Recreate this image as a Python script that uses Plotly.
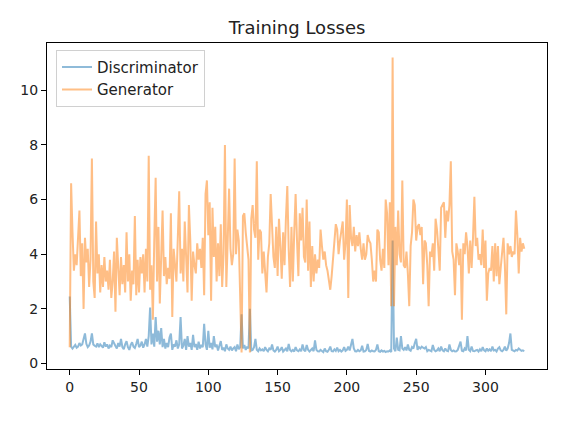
import plotly.graph_objects as go

# Losses per training step
disc_losses = [
    2.45, 0.62, 0.55, 0.6, 0.68, 0.58, 0.62, 0.75, 0.66, 0.7,
    0.95, 1.1, 0.72, 0.6, 0.66, 0.8, 1.1, 0.7, 0.65, 0.62,
    0.74, 0.6, 0.7, 0.64, 0.58, 0.78, 0.62, 0.7, 0.55, 0.66,
    0.6, 0.85, 0.72, 0.64, 0.55, 0.75, 0.62, 0.9, 0.6, 0.52,
    0.7, 0.82, 0.6, 0.5, 0.68, 0.78, 0.62, 0.57, 0.72, 0.9,
    0.6, 0.66, 0.8, 0.58, 0.7, 0.9, 0.62, 1.0, 2.05, 0.7,
    1.1, 0.62, 1.7, 0.8, 1.2, 0.7, 1.3, 0.6, 0.9, 0.55,
    0.75, 0.6, 0.95, 1.1, 0.5, 0.7, 0.62, 0.85, 0.55, 0.7,
    1.7, 0.55, 0.65, 0.9, 0.5, 1.0, 0.62, 0.75, 0.5, 1.05,
    0.6, 0.72, 0.5, 0.8, 0.55, 0.68, 0.6, 1.45, 0.7, 0.5,
    1.2, 0.58, 0.75, 0.52, 1.0, 0.6, 0.7, 0.48, 0.65, 0.82,
    0.5, 0.58, 0.45, 0.7, 0.55, 0.5, 0.62, 0.48, 0.55, 0.6,
    0.45, 0.7, 0.52, 0.6, 1.8, 0.55, 0.68, 0.5, 0.62, 0.55,
    2.0, 0.48, 0.5, 0.6, 0.9, 0.5, 0.45, 0.55, 0.48, 0.52,
    0.45, 0.6, 0.5, 0.45, 0.55, 0.5, 0.7, 0.48, 0.44, 0.5,
    0.62, 0.45, 0.5, 0.6, 0.44, 0.48, 0.55, 0.45, 0.72, 0.5,
    0.45, 0.5, 0.44, 0.6, 0.48, 0.45, 0.52, 0.45, 0.7, 0.5,
    0.45, 0.68, 0.5, 0.44, 0.48, 0.55, 0.45, 0.85, 0.5, 0.45,
    0.44, 0.5, 0.46, 0.42, 0.55, 0.45, 0.43, 0.5, 0.62, 0.45,
    0.44, 0.52, 0.46, 0.58, 0.45, 0.5, 0.44, 0.48, 0.6, 0.46,
    0.5, 0.62, 0.48, 0.75, 0.9, 0.55, 0.45, 0.44, 0.5, 0.45,
    0.48, 0.65, 0.44, 0.45, 0.5, 0.72, 0.46, 0.44, 0.48, 0.45,
    0.44, 0.5, 0.7, 0.45, 0.43, 0.48, 0.44, 0.46, 0.42, 0.45,
    0.44, 0.48, 0.42, 4.5, 0.55, 0.45, 0.95, 0.5, 0.48, 1.0,
    0.55, 0.5, 0.6, 0.48, 0.7, 0.5, 0.47, 0.6, 0.55, 0.75,
    0.9, 0.5, 0.6, 0.55, 0.62, 0.58, 0.55, 0.6, 0.45, 0.5,
    0.47, 0.45, 0.68, 0.5, 0.45, 0.48, 0.55, 0.45, 0.62, 0.48,
    0.45, 0.55, 0.47, 0.45, 0.7, 0.5, 0.45, 0.48, 0.44, 0.45,
    0.5, 0.62, 0.8, 0.47, 0.45, 0.55, 0.48, 1.0, 0.5, 0.45,
    0.62, 0.46, 0.45, 0.48, 0.5, 0.44, 0.52, 0.45, 0.6, 0.48,
    0.45, 0.55, 0.47, 0.52, 0.45, 0.62, 0.48, 0.5, 0.44, 0.55,
    0.6, 0.48, 0.45, 0.5, 0.62, 0.47, 0.55, 0.75, 1.1, 0.5,
    0.47, 0.45, 0.5, 0.48, 0.55, 0.5, 0.46, 0.48, 0.45,
]

gen_losses = [
    0.6, 6.6, 4.8, 3.4, 4.0, 3.6, 4.6, 5.6, 3.2, 4.4,
    2.0, 4.6, 3.7, 4.2, 2.8, 3.8, 7.5, 3.0, 2.4, 5.2,
    3.3, 4.0, 2.6, 3.6, 2.8, 3.9, 3.0, 3.4, 2.7, 3.8,
    2.4, 3.0, 4.1, 1.9, 4.6, 3.2, 2.5, 3.9, 2.9, 3.6,
    2.6, 4.8, 3.0, 4.0, 2.3, 3.4, 2.9, 5.4, 2.5, 3.8,
    2.6, 3.9, 3.3, 4.0, 2.6, 4.2, 3.0, 7.6, 2.7, 3.6,
    1.6, 4.5, 6.8, 3.0, 5.0, 2.2, 4.3, 5.6, 3.2, 3.9,
    2.9, 3.5, 3.1, 5.5, 1.7, 4.2, 3.6, 3.0, 4.6, 6.3,
    3.3, 4.2, 3.0, 5.2, 3.9, 2.6, 5.8, 4.5, 2.3, 4.1,
    3.6, 3.3, 4.4, 3.8, 4.2, 3.5, 4.6, 2.5, 6.2, 6.7,
    4.7, 5.9, 2.3, 5.7, 3.9, 5.0, 3.0, 4.4, 3.2, 5.1,
    2.8, 4.0, 8.0, 2.8, 4.5, 6.4, 4.2, 3.6, 4.0, 7.5,
    4.0, 4.9, 4.5, 2.0, 0.4, 5.4, 5.5, 4.8, 4.3, 3.8,
    0.4, 5.3, 5.8, 4.9, 4.6, 7.4, 3.8, 4.9, 4.8, 3.3,
    4.1, 3.4, 2.6, 3.9, 4.4, 6.2, 4.7, 3.9, 3.5, 5.0,
    3.2, 5.3, 4.3, 3.1, 4.8, 3.6, 5.3, 6.5, 4.2, 2.8,
    5.0, 3.0, 4.8, 6.2, 4.5, 3.2, 5.5, 4.5, 5.7, 3.9,
    3.7, 6.0, 3.4, 5.2, 2.8, 4.3, 3.0, 4.0, 3.3, 3.8,
    3.5, 4.9, 4.3, 3.8, 4.1, 3.6, 3.4, 3.0, 2.7, 3.2,
    3.8, 4.3, 5.1, 4.9, 4.0, 4.5, 4.9, 5.2, 3.8, 4.4,
    6.0, 2.4, 5.8, 4.6, 4.3, 5.0, 4.1, 4.7, 4.3, 4.8,
    4.2, 3.8, 4.4, 3.8, 4.0, 4.7, 4.5, 4.4, 3.8, 3.0,
    3.4, 3.0, 4.9, 4.8, 3.8, 3.4, 4.2, 3.5, 6.0, 5.5,
    3.6, 5.9, 2.1, 11.2, 2.1, 5.0, 3.6, 5.6, 4.0, 3.7,
    6.7, 3.6, 3.5, 4.1, 3.3, 2.1, 4.3, 4.8, 6.0, 5.8,
    4.5, 5.0, 5.1, 4.7, 5.0, 2.9, 4.5, 4.4, 3.6, 2.1,
    4.1, 3.9, 4.4, 3.4, 5.3, 4.9, 4.2, 3.4, 5.7, 5.8,
    5.9, 4.6, 5.6, 5.2, 5.8, 7.4, 4.1, 3.8, 2.5, 4.4,
    4.1, 3.6, 4.2, 1.6, 4.4, 4.0, 4.8, 4.3, 3.3, 4.5,
    3.5, 4.6, 6.1, 4.3, 4.6, 3.8, 4.0, 3.6, 4.9, 3.5,
    4.5, 2.3, 3.3, 3.5, 3.4, 4.3, 3.0, 4.4, 3.2, 4.3,
    2.9, 3.5, 4.1, 4.6, 3.6, 1.8, 4.4, 4.0, 4.3, 3.9,
    4.1, 4.0, 5.6, 4.7, 3.3, 4.6, 4.1, 4.4, 4.2,
]

x_ticks = [0, 50, 100, 150, 200, 250, 300]
y_ticks = [0, 2, 4, 6, 8, 10]

font = "DejaVu Sans"

fig = go.Figure()
fig.add_trace(go.Scatter(
    x=list(range(len(disc_losses))), y=disc_losses, mode="lines",
    name="Discriminator", line=dict(color="#1f77b4", width=2), opacity=0.5,
))
fig.add_trace(go.Scatter(
    x=list(range(len(gen_losses))), y=gen_losses, mode="lines",
    name="Generator", line=dict(color="#ff7f0e", width=2), opacity=0.5,
))

axis_style = dict(
    showgrid=False, zeroline=False, showline=True, linecolor="black",
    linewidth=1, mirror=True, ticks="outside", ticklen=5, tickwidth=1,
    tickcolor="black", tickfont=dict(family=font, size=14, color="#222222"),
)

# the page body adds an 8px offset, so the figure is a bit smaller than the window
fig.update_layout(
    width=554, height=418,
    margin=dict(l=35, r=15, t=35, b=57),
    paper_bgcolor="white", plot_bgcolor="white",
    title=dict(text="Training Losses", x=0.5, xref="paper", xanchor="center",
               y=0.952, yanchor="middle", yref="container",
               font=dict(family=font, size=18, color="#222222")),
    xaxis=dict(range=[-16.4, 344.4], tickvals=x_ticks, **axis_style),
    yaxis=dict(range=[-0.2, 11.73], tickvals=y_ticks, **axis_style),
    legend=dict(x=0.018, y=0.979, xanchor="left", yanchor="top",
                bgcolor="rgba(255,255,255,0.8)", bordercolor="#d0d0d0",
                borderwidth=1, itemwidth=30, tracegroupgap=0,
                font=dict(family=font, size=15, color="#222222")),
    showlegend=True,
)

fig.write_html("out.html")
